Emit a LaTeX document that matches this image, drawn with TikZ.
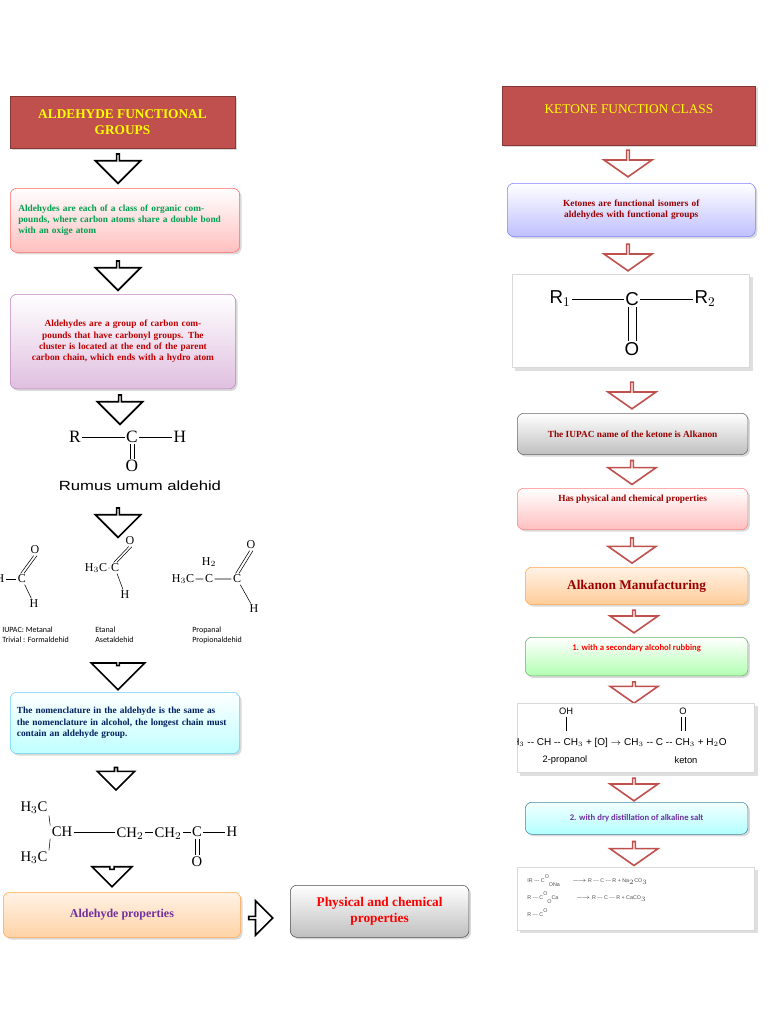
\documentclass[tikz,border=0pt]{standalone}
\usepackage{fontspec}
\setmainfont{Liberation Serif}
\newfontfamily\sansf{Carlito}
\newfontfamily\formf{Liberation Sans}
\usetikzlibrary{shapes.arrows,shadows}
\definecolor{titlered}{HTML}{C0504D}
\definecolor{titleyel}{HTML}{FFFF00}
\definecolor{txtgreen}{HTML}{00A050}
\definecolor{txtred}{HTML}{C00000}
\definecolor{txtblue}{HTML}{002060}
\definecolor{txtpurple}{HTML}{7030A0}
\definecolor{arrred}{HTML}{C0504D}
\tikzset{
    box/.style={draw, rounded corners=5pt, inner sep=3pt, align=center,
        drop shadow={opacity=.3, shadow xshift=1.5pt, shadow yshift=-1.5pt}},
    title/.style={box, rounded corners=0pt, draw=titlered!70!black, fill=titlered,
        text=titleyel, font=\fontsize{10}{12}\selectfont},
    darr/.style={single arrow, draw=black, very thick, fill=white, rotate=-90,
        minimum height=22pt, minimum width=34pt, single arrow head extend=9pt,
        inner sep=0pt},
    rarr/.style={single arrow, draw=arrred, very thick, fill=white, rotate=-90,
        minimum height=20pt, minimum width=36pt, single arrow head extend=10pt,
        single arrow tip angle=110, inner sep=0pt},
    small/.style={font=\fontsize{7}{8.5}\selectfont\bfseries},
    chem/.style={font=\fontsize{9}{10}\selectfont, inner sep=1pt},
    namecap/.style={font=\sansf\fontsize{6}{7}\selectfont, align=left, inner sep=0pt, anchor=north west},
}
\begin{document}
\begin{tikzpicture}[x=0.75pt, y=-0.75pt]
\useasboundingbox (0,0) rectangle (768,1024);

% left column
\node[title, minimum width=168.75pt, minimum height=39pt, font=\fontsize{10}{12}\selectfont\bfseries]
    (ald) at (122.5,122) {ALDEHYDE FUNCTIONAL\\GROUPS};
\node[darr] (a1) at (118,168) {};
\node[box, draw=red!60, top color=white, bottom color=red!25, text=txtgreen, small,
    align=left, text width=160pt, minimum width=172pt, minimum height=48pt, anchor=north west]
    (def) at (10,188) {Aldehydes are each of a class of organic compounds, where carbon atoms share a double bond with an oxige atom\\[14pt]};
\node[darr] (a2) at (118,275) {};
\node[box, draw=violet!50, top color=white, bottom color=violet!25, text=txtred, small,
    text width=150pt, minimum width=169pt, minimum height=71pt, anchor=north west]
    (carb) at (10,294) {Aldehydes are a group of carbon compounds that have carbonyl groups. The cluster is located at the end of the parent carbon chain, which ends with a hydro atom};
\node[darr] (a3) at (120,409) {};

% general formula
\node[chem, font=\fontsize{13}{14}\selectfont] (fr) at (75,437) {R};
\node[chem, font=\fontsize{13}{14}\selectfont] (fc) at (132,437) {C};
\node[chem, font=\fontsize{13}{14}\selectfont] (fh) at (180,437) {H};
\node[chem, font=\fontsize{13}{14}\selectfont] (fo) at (132,466) {O};
\draw (fr) -- (fc) -- (fh);
\draw ([xshift=-1.5pt]fc.south) -- ([xshift=-1.5pt]fo.north);
\draw ([xshift=1.5pt]fc.south) -- ([xshift=1.5pt]fo.north);
\node[font=\formf\fontsize{10}{11}\selectfont, xscale=1.25] (rumus) at (140,486) {Rumus umum aldehid};
\node[darr] (a4) at (118,522) {};

% three aldehydes
\node[chem] (m1c) at (22,579) {C};
\node[chem, anchor=east] (m1h) at (6,579) {H};
\node[chem] (m1o) at (35,550) {O};
\node[chem] (m1hb) at (34,604) {H};
\draw (m1h) -- (m1c);
\draw ([xshift=-1pt]m1c.north) -- ([xshift=-1pt]m1o.south);
\draw ([xshift=1.5pt]m1c.north) -- ([xshift=1.5pt]m1o.south);
\draw (m1c) -- (m1hb);
\node[chem] (m2a) at (96,568) {H$_3$C};
\node[chem] (m2c) at (115,568) {C};
\node[chem] (m2o) at (130,541) {O};
\node[chem] (m2h) at (125,595) {H};
\draw (m2a) -- (m2c) -- (m2h);
\draw ([xshift=-1pt]m2c.north) -- ([xshift=-1pt]m2o.south);
\draw ([xshift=1.5pt]m2c.north) -- ([xshift=1.5pt]m2o.south);
\node[chem] (m3a) at (183,579) {H$_3$C};
\node[chem] (m3b) at (209,579) {C};
\node[chem] (m3bh) at (209,562) {H$_2$};
\node[chem] (m3c) at (237,579) {C};
\node[chem] (m3o) at (251,545) {O};
\node[chem] (m3h) at (254,609) {H};
\draw (m3a) -- (m3b) -- (m3c) -- (m3h);
\draw ([xshift=-1pt]m3c.north) -- ([xshift=-1pt]m3o.south);
\draw ([xshift=1.5pt]m3c.north) -- ([xshift=1.5pt]m3o.south);
\node[namecap] (n1) at (2,627) {IUPAC: Metanal\\Trivial : Formaldehid};
\node[namecap] (n2) at (95,627) {Etanal\\Asetaldehid};
\node[namecap] (n3) at (192,627) {Propanal\\Propionaldehid};
\node[darr, minimum width=40pt, single arrow head extend=11pt, minimum height=18pt] (a5) at (118,677) {};

\node[box, draw=cyan!60, top color=white, bottom color=cyan!25, text=txtblue, small,
    align=left, text width=162pt, minimum width=172pt, minimum height=46pt, anchor=north west]
    (nom) at (10,692) {The nomenclature in the aldehyde is the same as the nomenclature in alcohol, the longest chain must contain an aldehyde group.\\[4pt]};
\node[darr, minimum height=17pt, minimum width=28pt, single arrow head extend=7pt] (a6) at (116,778) {};

% isopentanal
\begin{scope}[every node/.style={chem, font=\fontsize{11}{12}\selectfont}]
\node (p1) at (34,808) {H$_3$C};
\node (p2) at (62,832) {CH};
\node (p3) at (34,858) {H$_3$C};
\node (p4) at (130,834) {CH$_2$};
\node (p5) at (168,834) {CH$_2$};
\node (p6) at (197,832) {C};
\node (p7) at (232,832) {H};
\node (p8) at (197,862) {O};
\end{scope}
\draw (p1.south east) -- (p2.north west);
\draw (p3.north east) -- (p2.south west);
\draw (p2) -- (p4.west |- p2);
\draw (p4.east |- p2) -- (p5.west |- p2);
\draw (p5.east |- p2) -- (p6) -- (p7);
\draw ([xshift=-1.5pt]p6.south) -- ([xshift=-1.5pt]p8.north);
\draw ([xshift=1.5pt]p6.south) -- ([xshift=1.5pt]p8.north);
\node[darr, minimum height=13pt, minimum width=30pt, single arrow head extend=5pt] (a7) at (112,877) {};

\node[box, draw=orange!70, top color=orange!10, bottom color=orange!35, text=txtpurple,
    font=\fontsize{9}{11}\selectfont\bfseries, minimum width=178pt, minimum height=34pt, anchor=north west]
    (prop) at (3,892) {Aldehyde properties};
\node[single arrow, draw=black, very thick, minimum height=18pt, minimum width=26pt,
    single arrow head extend=6pt, inner sep=0pt] (a8) at (260,918) {};
\node[box, draw=black!70, top color=white, bottom color=black!25, text=red,
    font=\fontsize{10}{12}\selectfont\bfseries, minimum width=134pt, minimum height=39pt, anchor=north west]
    (phys) at (290,885) {Physical and chemical\\properties};

% right column
\node[title, minimum width=190pt, minimum height=44pt, anchor=north west]
    (ket) at (502,86) {\raisebox{10pt}{KETONE FUNCTION CLASS}};
\node[rarr] (b1) at (628,163) {};
\node[box, draw=blue!50, top color=white, bottom color=blue!25, text=txtred!80!black, small,
    text width=175pt, minimum width=186pt, minimum height=40pt, anchor=north west]
    (iso) at (507,183) {Ketones are functional isomers of aldehydes with functional groups\\[9pt]};
\node[rarr] (b2) at (628,257) {};
\node[draw=black!15, fill=white, drop shadow={opacity=.25}, minimum width=178pt, minimum height=70pt, anchor=north west]
    (kbox) at (512,274) {};
\begin{scope}[every node/.style={font=\formf\fontsize{14}{15}\selectfont, inner sep=1pt}]
\node (kr1) at (560,299) {R$_1$};
\node (kc) at (632,299) {C};
\node (kr2) at (705,299) {R$_2$};
\node (ko) at (632,349) {O};
\end{scope}
\draw (kr1) -- (kc) -- (kr2);
\draw ([xshift=-3pt]kc.south) -- ([xshift=-3pt]ko.north);
\draw ([xshift=3pt]kc.south) -- ([xshift=3pt]ko.north);
\node[rarr] (b3) at (632,395) {};
\node[box, draw=black!60, top color=white, bottom color=black!25, text=txtred!80!black, small,
    minimum width=173pt, minimum height=31pt, anchor=north west]
    (iup) at (517,413) {The IUPAC name of the ketone is Alkanon};
\node[rarr, minimum height=18pt] (b4) at (632,472) {};
\node[box, draw=red!50, top color=white, bottom color=red!25, text=txtred!80!black, small,
    minimum width=173pt, minimum height=31pt, anchor=north west]
    (has) at (517,488) {Has physical and chemical properties\\[8pt]};
\node[rarr, minimum height=19pt] (b5) at (632,550) {};
\node[box, draw=orange!70, top color=orange!10, bottom color=orange!40, text=txtred!80!black,
    font=\fontsize{10}{12}\selectfont\bfseries, minimum width=167pt, minimum height=28pt, anchor=north west]
    (man) at (525,567) {Alkanon Manufacturing};
\node[rarr, minimum height=17pt] (b6) at (634,621) {};
\node[box, draw=green!50!black!60, top color=white, bottom color=green!30, text=red,
    font=\sansf\fontsize{6.5}{8}\selectfont\bfseries, minimum width=167pt, minimum height=29pt, anchor=north west]
    (sec) at (525,637) {1. with a secondary alcohol rubbing\\[6pt]};
\node[rarr, minimum height=16pt] (b7) at (634,692) {};
\node[draw=black!15, fill=white, drop shadow={opacity=.25}, minimum width=178pt, minimum height=52pt, anchor=north west]
    (rx1) at (517,703) {};
\begin{scope}
\clip (517,703) rectangle (755,773);
\node[font=\formf\fontsize{7.5}{9}\selectfont, anchor=west, inner sep=0pt] (rx1t) at (512,743)
    {H$_3$ -- CH -- CH$_3$ + [O] $\rightarrow$ CH$_3$ -- C -- CH$_3$ + H$_2$O};
\node[font=\formf\fontsize{7}{8}\selectfont] (oh) at (566,711) {OH};
\node[font=\formf\fontsize{7}{8}\selectfont] (ok) at (683,711) {O};
\draw (566,717) -- (566,731);
\draw (681,717) -- (681,731); \draw (685,717) -- (685,731);
\node[font=\formf\fontsize{7}{8}\selectfont] (pr) at (565,760) {2-propanol};
\node[font=\formf\fontsize{7}{8}\selectfont] (kt) at (686,760) {keton};
\end{scope}
\node[rarr, minimum height=17pt] (b8) at (634,789) {};
\node[box, draw=cyan!60!black, top color=cyan!5, bottom color=cyan!30, text=txtpurple,
    font=\sansf\fontsize{6.5}{8}\selectfont\bfseries, minimum width=167pt, minimum height=24pt, anchor=north west]
    (dry) at (525,802) {2. with dry distillation of alkaline salt};
\node[rarr, minimum height=18pt] (b9) at (634,853) {};
\node[draw=black!15, fill=white, drop shadow={opacity=.25}, minimum width=178pt, minimum height=47pt, anchor=north west]
    (rx2) at (517,867) {};
\begin{scope}[every node/.style={font=\formf\fontsize{4}{5}\selectfont, text=black!70, inner sep=0pt}]
\clip (517,867) rectangle (755,930);
\node[anchor=west] (s1) at (527,881) {IR --- C\raisebox{3pt}{O}\raisebox{-3pt}{ONa} \hspace{8pt}$\longrightarrow$ R --- C --- R + Na$_2$CO$_3$};
\node[anchor=west] (s2) at (527,898) {R --- C\raisebox{3pt}{O}\raisebox{-3pt}{O}Ca \hspace{12pt}$\longrightarrow$ R --- C --- R + CaCO$_3$};
\node[anchor=west] (s3) at (527,913) {R --- C\raisebox{3pt}{O}};
\end{scope}
\end{tikzpicture}
\end{document}
